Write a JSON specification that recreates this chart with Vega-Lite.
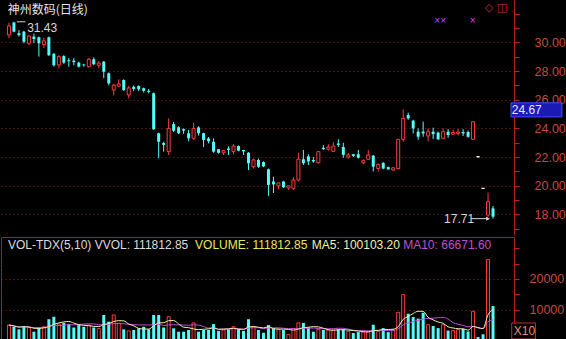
{
"$schema":"https://vega.github.io/schema/vega-lite/v6.json",
"background":"#000000",
"padding":0,
"spacing":0,
"config":{"view":{"stroke":null},"concat":{"spacing":0},"text":{"font":"Liberation Sans"},"axis":{"labelOverlap":false}},
"datasets":{"k":[
{"i":0,"o":30.51,"h":31.37,"l":30.28,"c":31.14,"v":5000},
{"i":1,"o":31.38,"h":31.43,"l":30.70,"c":30.74,"v":4450},
{"i":2,"o":30.63,"h":30.86,"l":30.40,"c":30.50,"v":3600},
{"i":3,"o":30.74,"h":30.80,"l":29.93,"c":30.04,"v":4700},
{"i":4,"o":29.93,"h":30.50,"l":29.80,"c":30.44,"v":4200},
{"i":5,"o":30.39,"h":30.60,"l":29.95,"c":30.23,"v":2840},
{"i":6,"o":30.35,"h":30.40,"l":29.00,"c":29.93,"v":4200},
{"i":7,"o":29.85,"h":30.30,"l":29.60,"c":30.10,"v":4450},
{"i":8,"o":30.35,"h":30.40,"l":29.05,"c":29.10,"v":6900},
{"i":9,"o":29.20,"h":29.25,"l":28.30,"c":28.40,"v":7700},
{"i":10,"o":28.42,"h":29.10,"l":28.20,"c":29.00,"v":5300},
{"i":11,"o":29.04,"h":29.10,"l":28.50,"c":28.58,"v":5700},
{"i":12,"o":28.75,"h":28.90,"l":28.30,"c":28.68,"v":5300},
{"i":13,"o":28.72,"h":28.90,"l":28.40,"c":28.62,"v":4200},
{"i":14,"o":28.58,"h":28.65,"l":28.25,"c":28.30,"v":5000},
{"i":15,"o":28.45,"h":28.50,"l":28.30,"c":28.40,"v":4450},
{"i":16,"o":28.30,"h":28.90,"l":28.25,"c":28.82,"v":5000},
{"i":17,"o":28.82,"h":28.95,"l":28.40,"c":28.47,"v":4200},
{"i":18,"o":28.40,"h":28.70,"l":28.20,"c":28.55,"v":3900},
{"i":19,"o":28.65,"h":28.70,"l":27.50,"c":27.95,"v":8270},
{"i":20,"o":27.84,"h":27.90,"l":27.00,"c":27.14,"v":6100},
{"i":21,"o":26.67,"h":27.10,"l":26.30,"c":27.02,"v":8270},
{"i":22,"o":26.95,"h":27.42,"l":26.90,"c":27.10,"v":5560},
{"i":23,"o":27.37,"h":27.42,"l":26.60,"c":26.67,"v":3600},
{"i":24,"o":26.33,"h":26.95,"l":26.10,"c":26.82,"v":3100},
{"i":25,"o":26.90,"h":27.00,"l":26.60,"c":26.75,"v":3380},
{"i":26,"o":26.95,"h":27.00,"l":26.60,"c":26.72,"v":3930},
{"i":27,"o":26.80,"h":26.85,"l":26.50,"c":26.62,"v":4450},
{"i":28,"o":26.62,"h":26.75,"l":26.45,"c":26.55,"v":3600},
{"i":29,"o":26.45,"h":26.50,"l":23.90,"c":23.94,"v":8270},
{"i":30,"o":23.66,"h":23.70,"l":21.92,"c":23.07,"v":8270},
{"i":31,"o":22.98,"h":23.07,"l":22.38,"c":22.85,"v":4200},
{"i":32,"o":22.38,"h":24.70,"l":22.15,"c":24.00,"v":7700},
{"i":33,"o":24.30,"h":24.45,"l":23.75,"c":23.84,"v":3930},
{"i":34,"o":24.08,"h":24.15,"l":23.60,"c":23.66,"v":2840},
{"i":35,"o":23.95,"h":24.00,"l":23.62,"c":23.85,"v":2840},
{"i":36,"o":23.66,"h":23.90,"l":23.10,"c":23.31,"v":3380},
{"i":37,"o":23.31,"h":24.40,"l":23.20,"c":24.00,"v":5700},
{"i":38,"o":24.07,"h":24.15,"l":23.50,"c":23.66,"v":2840},
{"i":39,"o":23.66,"h":23.70,"l":22.70,"c":23.20,"v":3380},
{"i":40,"o":23.30,"h":23.40,"l":22.95,"c":23.10,"v":3380},
{"i":41,"o":23.07,"h":23.30,"l":22.30,"c":22.38,"v":5300},
{"i":42,"o":22.55,"h":22.55,"l":22.25,"c":22.30,"v":3100},
{"i":43,"o":22.30,"h":22.50,"l":22.15,"c":22.45,"v":3380},
{"i":44,"o":22.60,"h":22.75,"l":22.15,"c":22.50,"v":3600},
{"i":45,"o":22.38,"h":22.90,"l":22.20,"c":22.77,"v":4450},
{"i":46,"o":22.77,"h":22.80,"l":22.40,"c":22.45,"v":3600},
{"i":47,"o":22.50,"h":22.50,"l":22.15,"c":22.40,"v":3100},
{"i":48,"o":22.30,"h":22.35,"l":21.10,"c":21.57,"v":6900},
{"i":49,"o":21.33,"h":21.90,"l":21.20,"c":21.80,"v":4450},
{"i":50,"o":21.80,"h":21.90,"l":21.25,"c":21.33,"v":3380},
{"i":51,"o":21.65,"h":21.70,"l":21.30,"c":21.35,"v":2500},
{"i":52,"o":21.15,"h":21.20,"l":19.30,"c":20.06,"v":5000},
{"i":53,"o":20.30,"h":20.63,"l":19.50,"c":20.10,"v":3930},
{"i":54,"o":20.00,"h":20.20,"l":19.75,"c":20.20,"v":3600},
{"i":55,"o":20.30,"h":20.35,"l":19.85,"c":19.90,"v":3380},
{"i":56,"o":19.85,"h":20.00,"l":19.70,"c":20.00,"v":1950},
{"i":57,"o":19.83,"h":20.60,"l":19.70,"c":20.40,"v":3900},
{"i":58,"o":20.40,"h":22.30,"l":20.30,"c":21.85,"v":5700},
{"i":59,"o":21.85,"h":22.50,"l":21.45,"c":21.57,"v":5700},
{"i":60,"o":22.05,"h":22.20,"l":21.45,"c":21.70,"v":4200},
{"i":61,"o":21.80,"h":22.00,"l":21.60,"c":21.70,"v":2840},
{"i":62,"o":21.60,"h":22.40,"l":21.55,"c":22.38,"v":3600},
{"i":63,"o":22.65,"h":22.85,"l":22.50,"c":22.55,"v":3380},
{"i":64,"o":22.55,"h":22.90,"l":22.45,"c":22.70,"v":3380},
{"i":65,"o":22.40,"h":23.05,"l":22.35,"c":22.77,"v":3380},
{"i":66,"o":22.95,"h":23.25,"l":22.70,"c":22.85,"v":3600},
{"i":67,"o":22.70,"h":23.00,"l":21.95,"c":22.15,"v":3600},
{"i":68,"o":22.00,"h":22.30,"l":21.90,"c":22.15,"v":2950},
{"i":69,"o":22.20,"h":22.20,"l":22.00,"c":22.08,"v":2400},
{"i":70,"o":22.20,"h":22.50,"l":21.90,"c":21.95,"v":2700},
{"i":71,"o":21.60,"h":21.85,"l":21.50,"c":21.75,"v":2700},
{"i":72,"o":21.85,"h":22.50,"l":21.80,"c":22.15,"v":2950},
{"i":73,"o":22.10,"h":22.15,"l":21.00,"c":21.33,"v":5100},
{"i":74,"o":21.20,"h":21.55,"l":21.00,"c":21.50,"v":2950},
{"i":75,"o":21.60,"h":21.65,"l":21.15,"c":21.20,"v":4000},
{"i":76,"o":21.30,"h":21.35,"l":21.10,"c":21.15,"v":2700},
{"i":77,"o":21.10,"h":21.30,"l":21.05,"c":21.25,"v":3500},
{"i":78,"o":21.20,"h":23.25,"l":21.15,"c":23.24,"v":9140},
{"i":79,"o":23.24,"h":25.33,"l":23.07,"c":24.70,"v":14900},
{"i":80,"o":24.93,"h":25.10,"l":24.60,"c":24.70,"v":8700},
{"i":81,"o":24.54,"h":24.60,"l":23.65,"c":24.00,"v":7600},
{"i":82,"o":23.77,"h":24.00,"l":23.20,"c":23.42,"v":7100},
{"i":83,"o":23.77,"h":24.47,"l":23.42,"c":23.65,"v":9000},
{"i":84,"o":23.47,"h":24.00,"l":23.10,"c":23.77,"v":5100},
{"i":85,"o":23.77,"h":24.05,"l":23.25,"c":23.60,"v":4700},
{"i":86,"o":23.70,"h":23.78,"l":23.20,"c":23.24,"v":4000},
{"i":87,"o":23.31,"h":24.00,"l":23.24,"c":23.77,"v":5100},
{"i":88,"o":23.77,"h":23.95,"l":23.35,"c":23.54,"v":3200},
{"i":89,"o":23.60,"h":23.90,"l":23.55,"c":23.72,"v":3200},
{"i":90,"o":23.65,"h":23.95,"l":23.50,"c":23.75,"v":3500},
{"i":91,"o":23.75,"h":23.94,"l":23.47,"c":23.65,"v":3800},
{"i":92,"o":23.75,"h":23.85,"l":23.35,"c":23.42,"v":2920},
{"i":93,"o":23.24,"h":24.50,"l":23.20,"c":24.47,"v":9470},
{"i":94,"o":22.02,"h":22.02,"l":22.02,"c":22.02,"v":1100},
{"i":95,"o":19.82,"h":19.82,"l":19.82,"c":19.82,"v":2000},
{"i":96,"o":17.96,"h":19.52,"l":17.84,"c":18.89,"v":26300},
{"i":97,"o":18.43,"h":18.60,"l":17.71,"c":17.85,"v":11181}
]},
"vconcat":[
{
"width":513,"height":235,
"data":{"name":"k"},
"resolve":{"axis":{"x":"independent","y":"independent"}},
"layer":[
{"mark":{"type":"rule","strokeWidth":1},
 "encoding":{
  "x":{"field":"i","type":"quantitative","scale":{"domain":[-0.59,100.2],"nice":false,"zero":false},"axis":null},
  "y":{"field":"l","type":"quantitative","scale":{"domain":[16.571,32.948],"nice":false,"zero":false},
   "axis":{"orient":"right","title":null,"values":[17,18,19,20,21,22,23,24,25,26,27,28,29,30,31,32],
    "labelExpr":"(datum.value % 2 == 0 && datum.value >= 18 && datum.value <= 30) ? format(datum.value, '.2f') : ''",
    "labelAlign":"left","labelBaseline":"middle","labelPadding":15,"tickSize":5,"labelOverlap":false,"labelBound":false,
    "labelFont":"Liberation Sans","labelFontSize":12.5,"labelColor":"#c44a3c",
    "tickColor":"#b02828","domainColor":"#b02020","grid":true,"gridDash":[1,3],
    "gridColor":{"condition":{"test":"datum.value % 2 == 0 && datum.value >= 18 && datum.value <= 30","value":"#8c2222"},"value":"#000000"}}},
  "y2":{"field":"h"},
  "color":{"condition":[{"test":"datum.c == datum.o","value":"#ffffff"},{"test":"datum.c > datum.o","value":"#ff3c3c"}],"value":"#54fcfc"}
 }},
{"transform":[{"filter":"datum.c < datum.o"}],
 "mark":{"type":"bar","orient":"vertical","size":3,"fill":"#54fcfc"},
 "encoding":{
  "x":{"field":"i","type":"quantitative","scale":{"domain":[-0.59,100.2],"nice":false,"zero":false},"axis":null},
  "y":{"field":"o","type":"quantitative","scale":{"domain":[16.571,32.948],"nice":false,"zero":false},"axis":null},
  "y2":{"field":"c"}
 }},
{"transform":[{"filter":"datum.c >= datum.o"}],
 "mark":{"type":"bar","orient":"vertical","size":3,"fill":"#000000","strokeWidth":1},
 "encoding":{
  "x":{"field":"i","type":"quantitative","scale":{"domain":[-0.59,100.2],"nice":false,"zero":false},"axis":null},
  "y":{"field":"o","type":"quantitative","scale":{"domain":[16.571,32.948],"nice":false,"zero":false},"axis":null},
  "y2":{"field":"c"},
  "stroke":{"condition":{"test":"datum.c == datum.o","value":"#ffffff"},"value":"#ff3c3c"}
 }},
{"data":{"values":[{"t":"神州数码(日线)"}]},
 "mark":{"type":"text","align":"left","baseline":"middle","font":"Noto Sans CJK SC","fontSize":12,"color":"#e6e6e6"},
 "encoding":{
  "x":{"datum":-0.25,"type":"quantitative","scale":{"domain":[-0.59,100.2],"nice":false,"zero":false},"axis":null},
  "y":{"datum":32.25,"type":"quantitative","scale":{"domain":[16.571,32.948],"nice":false,"zero":false},"axis":null},
  "text":{"field":"t"}
 }},
{"data":{"values":[{"p":31.43}]},
 "mark":{"type":"rule","color":"#d6d6d6","strokeWidth":1},
 "encoding":{
  "x":{"datum":1.6,"type":"quantitative","scale":{"domain":[-0.59,100.2],"nice":false,"zero":false},"axis":null},
  "x2":{"datum":3.3},
  "y":{"field":"p","type":"quantitative","scale":{"domain":[16.571,32.948],"nice":false,"zero":false},"axis":null}
 }},
{"data":{"values":[{"t":"31.43"}]},
 "mark":{"type":"text","align":"left","baseline":"middle","fontSize":12,"color":"#d6d6d6"},
 "encoding":{
  "x":{"datum":3.65,"type":"quantitative","scale":{"domain":[-0.59,100.2],"nice":false,"zero":false},"axis":null},
  "y":{"datum":31.02,"type":"quantitative","scale":{"domain":[16.571,32.948],"nice":false,"zero":false},"axis":null},
  "text":{"field":"t"}
 }},
{"data":{"values":[{"t":"17.71","p":17.71}]},
 "mark":{"type":"text","align":"left","baseline":"middle","fontSize":12,"color":"#d6d6d6"},
 "encoding":{
  "x":{"datum":87.2,"type":"quantitative","scale":{"domain":[-0.59,100.2],"nice":false,"zero":false},"axis":null},
  "y":{"field":"p","type":"quantitative","scale":{"domain":[16.571,32.948],"nice":false,"zero":false},"axis":null},
  "text":{"field":"t"}
 }},
{"data":{"values":[{"p":17.71}]},
 "mark":{"type":"rule","color":"#d6d6d6","strokeWidth":1},
 "encoding":{
  "x":{"datum":92.6,"type":"quantitative","scale":{"domain":[-0.59,100.2],"nice":false,"zero":false},"axis":null},
  "x2":{"datum":96.2},
  "y":{"field":"p","type":"quantitative","scale":{"domain":[16.571,32.948],"nice":false,"zero":false},"axis":null}
 }},
{"data":{"values":[{"p":17.71}]},
 "mark":{"type":"point","shape":"triangle-right","filled":true,"size":18,"color":"#d6d6d6","opacity":1},
 "encoding":{
  "x":{"datum":96.0,"type":"quantitative","scale":{"domain":[-0.59,100.2],"nice":false,"zero":false},"axis":null},
  "y":{"field":"p","type":"quantitative","scale":{"domain":[16.571,32.948],"nice":false,"zero":false},"axis":null}
 }},
{"data":{"values":[{"t":"××"}]},
 "mark":{"type":"text","align":"center","baseline":"middle","fontSize":10,"color":"#e040e0"},
 "encoding":{
  "x":{"datum":86.4,"type":"quantitative","scale":{"domain":[-0.59,100.2],"nice":false,"zero":false},"axis":null},
  "y":{"datum":31.5,"type":"quantitative","scale":{"domain":[16.571,32.948],"nice":false,"zero":false},"axis":null},
  "text":{"field":"t"}
 }},
{"data":{"values":[{"t":"×"}]},
 "mark":{"type":"text","align":"center","baseline":"middle","fontSize":10,"color":"#e040e0"},
 "encoding":{
  "x":{"datum":92.9,"type":"quantitative","scale":{"domain":[-0.59,100.2],"nice":false,"zero":false},"axis":null},
  "y":{"datum":31.5,"type":"quantitative","scale":{"domain":[16.571,32.948],"nice":false,"zero":false},"axis":null},
  "text":{"field":"t"}
 }},
{"data":{"values":[{"t":"◇"}]},
 "mark":{"type":"text","align":"center","baseline":"middle","font":"DejaVu Sans","fontSize":11,"color":"#c83030"},
 "encoding":{
  "x":{"datum":96.2,"type":"quantitative","scale":{"domain":[-0.59,100.2],"nice":false,"zero":false},"axis":null},
  "y":{"datum":32.37,"type":"quantitative","scale":{"domain":[16.571,32.948],"nice":false,"zero":false},"axis":null},
  "text":{"field":"t"}
 }},
{"data":{"values":[{"t":"◫"}]},
 "mark":{"type":"text","align":"center","baseline":"middle","font":"DejaVu Sans","fontSize":11,"color":"#c83030"},
 "encoding":{
  "x":{"datum":98.8,"type":"quantitative","scale":{"domain":[-0.59,100.2],"nice":false,"zero":false},"axis":null},
  "y":{"datum":32.37,"type":"quantitative","scale":{"domain":[16.571,32.948],"nice":false,"zero":false},"axis":null},
  "text":{"field":"t"}
 }},
{"data":{"values":[{"p":24.67}]},
 "mark":{"type":"rect","fill":"#1a1ab4","stroke":"#4a4aff","strokeWidth":1},
 "encoding":{
  "x":{"datum":100.6,"type":"quantitative","scale":{"domain":[-0.59,100.2],"nice":false,"zero":false},"axis":null},
  "x2":{"datum":110.8},
  "y":{"datum":24.8,"type":"quantitative","scale":{"domain":[16.571,32.948],"nice":false,"zero":false},"axis":null},
  "y2":{"datum":25.78}
 }},
{"data":{"values":[{"t":"24.67"}]},
 "mark":{"type":"text","align":"left","baseline":"middle","fontSize":12,"color":"#e8e8ff"},
 "encoding":{
  "x":{"datum":100.75,"type":"quantitative","scale":{"domain":[-0.59,100.2],"nice":false,"zero":false},"axis":null},
  "y":{"datum":25.29,"type":"quantitative","scale":{"domain":[16.571,32.948],"nice":false,"zero":false},"axis":null},
  "text":{"field":"t"}
 }}
]
},
{
"width":513,"height":104,
"view":{"stroke":"#a81c1c"},
"data":{"name":"k"},
"resolve":{"axis":{"x":"independent","y":"independent"}},
"layer":[
{"transform":[{"filter":"datum.c <= datum.o"}],
 "mark":{"type":"bar","orient":"vertical","size":3,"fill":"#54fcfc"},
 "encoding":{
  "x":{"field":"i","type":"quantitative","scale":{"domain":[-0.59,100.2],"nice":false,"zero":false},"axis":null},
  "y":{"field":"v","type":"quantitative","scale":{"domain":[-195,33677],"nice":false,"zero":false},
   "axis":{"orient":"right","title":null,"values":[5000,10000,15000,20000,25000,30000],
    "labelExpr":"(datum.value == 10000 || datum.value == 20000) ? '' + datum.value : ''",
    "labelAlign":"left","labelBaseline":"middle","labelPadding":10,"tickSize":5,"labelOverlap":false,"labelBound":false,
    "labelFont":"Liberation Sans","labelFontSize":12.5,"labelColor":"#c44a3c",
    "tickColor":"#b02828","domainColor":"#b02020","grid":true,"gridDash":[1,3],
    "gridColor":{"condition":{"test":"datum.value == 10000 || datum.value == 20000","value":"#8c2222"},"value":"#000000"}}},
  "y2":{"datum":0}
 }},
{"transform":[{"filter":"datum.c > datum.o"}],
 "mark":{"type":"bar","orient":"vertical","size":3,"fill":"#000000","stroke":"#ff3c3c","strokeWidth":1},
 "encoding":{
  "x":{"field":"i","type":"quantitative","scale":{"domain":[-0.59,100.2],"nice":false,"zero":false},"axis":null},
  "y":{"field":"v","type":"quantitative","scale":{"domain":[-195,33677],"nice":false,"zero":false},"axis":null},
  "y2":{"datum":0}
 }},
{"transform":[{"window":[{"op":"mean","field":"v","as":"ma10"}],"frame":[-9,0],"sort":[{"field":"i"}]}],
 "mark":{"type":"line","color":"#c050d0","strokeWidth":1,"interpolate":"monotone"},
 "encoding":{
  "x":{"field":"i","type":"quantitative","scale":{"domain":[-0.59,100.2],"nice":false,"zero":false},"axis":null},
  "y":{"field":"ma10","type":"quantitative","scale":{"domain":[-195,33677],"nice":false,"zero":false},"axis":null}
 }},
{"transform":[{"window":[{"op":"mean","field":"v","as":"ma5"}],"frame":[-4,0],"sort":[{"field":"i"}]}],
 "mark":{"type":"line","color":"#f0f0b4","strokeWidth":1,"interpolate":"monotone"},
 "encoding":{
  "x":{"field":"i","type":"quantitative","scale":{"domain":[-0.59,100.2],"nice":false,"zero":false},"axis":null},
  "y":{"field":"ma5","type":"quantitative","scale":{"domain":[-195,33677],"nice":false,"zero":false},"axis":null}
 }},
{"data":{"values":[{"t":"VOL-TDX(5,10) VVOL: 111812.85"}]},
 "mark":{"type":"text","align":"left","baseline":"middle","fontSize":12,"color":"#dcdcdc"},
 "encoding":{
  "x":{"datum":-0.2,"type":"quantitative","scale":{"domain":[-0.59,100.2],"nice":false,"zero":false},"axis":null},
  "y":{"datum":31000,"type":"quantitative","scale":{"domain":[-195,33677],"nice":false,"zero":false},"axis":null},
  "text":{"field":"t"}
 }},
{"data":{"values":[{"t":"VOLUME: 111812.85"}]},
 "mark":{"type":"text","align":"left","baseline":"middle","fontSize":12,"color":"#e8e860"},
 "encoding":{
  "x":{"datum":37.3,"type":"quantitative","scale":{"domain":[-0.59,100.2],"nice":false,"zero":false},"axis":null},
  "y":{"datum":31000,"type":"quantitative","scale":{"domain":[-195,33677],"nice":false,"zero":false},"axis":null},
  "text":{"field":"t"}
 }},
{"data":{"values":[{"t":"MA5: 100103.20"}]},
 "mark":{"type":"text","align":"left","baseline":"middle","fontSize":12,"color":"#f0f0b4"},
 "encoding":{
  "x":{"datum":60.7,"type":"quantitative","scale":{"domain":[-0.59,100.2],"nice":false,"zero":false},"axis":null},
  "y":{"datum":31000,"type":"quantitative","scale":{"domain":[-195,33677],"nice":false,"zero":false},"axis":null},
  "text":{"field":"t"}
 }},
{"data":{"values":[{"t":"MA10: 66671.60"}]},
 "mark":{"type":"text","align":"left","baseline":"middle","fontSize":12,"color":"#c050d0"},
 "encoding":{
  "x":{"datum":79.0,"type":"quantitative","scale":{"domain":[-0.59,100.2],"nice":false,"zero":false},"axis":null},
  "y":{"datum":31000,"type":"quantitative","scale":{"domain":[-195,33677],"nice":false,"zero":false},"axis":null},
  "text":{"field":"t"}
 }},
{"data":{"values":[{"t":"X10"}]},
 "mark":{"type":"rect","fill":"#000000","stroke":"#c03030","strokeWidth":1},
 "encoding":{
  "x":{"datum":100.75,"type":"quantitative","scale":{"domain":[-0.59,100.2],"nice":false,"zero":false},"axis":null},
  "x2":{"datum":105.5},
  "y":{"datum":456,"type":"quantitative","scale":{"domain":[-195,33677],"nice":false,"zero":false},"axis":null},
  "y2":{"datum":5670}
 }},
{"data":{"values":[{"t":"X10"}]},
 "mark":{"type":"text","align":"left","baseline":"middle","fontSize":12,"color":"#e09080"},
 "encoding":{
  "x":{"datum":101.15,"type":"quantitative","scale":{"domain":[-0.59,100.2],"nice":false,"zero":false},"axis":null},
  "y":{"datum":3060,"type":"quantitative","scale":{"domain":[-195,33677],"nice":false,"zero":false},"axis":null},
  "text":{"field":"t"}
 }}
]
}
]
}
